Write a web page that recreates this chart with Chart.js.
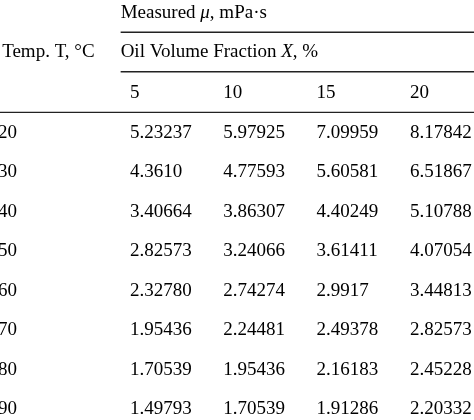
<!DOCTYPE html>
<html><head><meta charset="utf-8">
<script src="https://cdn.jsdelivr.net/npm/chart.js@4"></script>
<style>html,body{margin:0;padding:0;background:#fff}#w{width:474px;height:420px}</style>
</head><body><div id="w"><canvas id="c"></canvas></div>
<script>
const temps = ["20","30","40","50","60","70","80","90"];
const fractions = ["5","10","15","20"];
const col5 = ["5.23237","4.3610","3.40664","2.82573","2.32780","1.95436","1.70539","1.49793"];
const col10 = ["5.97925","4.77593","3.86307","3.24066","2.74274","2.24481","1.95436","1.70539"];
const col15 = ["7.09959","5.60581","4.40249","3.61411","2.9917","2.49378","2.16183","1.91286"];
const col20 = ["8.17842","6.51867","5.10788","4.07054","3.44813","2.82573","2.45228","2.20332"];
const cols = [col5,col10,col15,col20];
const pts = [];
cols.forEach((c,ci)=>c.forEach((v,ri)=>pts.push({x:ci,y:ri,t:v})));
const FONT = '19px "Liberation Serif", "DejaVu Serif", serif';
const tablePlugin = {
  id:'table',
  afterDatasetsDraw(chart){
    const ctx=chart.ctx, xs=chart.scales.x, ys=chart.scales.y;
    ctx.save();
    ctx.fillStyle='#000'; ctx.font=FONT; ctx.textBaseline='middle'; ctx.textAlign='left';
    pts.forEach(p=>ctx.fillText(p.t, xs.getPixelForValue(p.x), ys.getPixelForValue(p.y)));
    temps.forEach((t,i)=>ctx.fillText(t, xs.getPixelForValue(-1.415), ys.getPixelForValue(i)));
    fractions.forEach((f,i)=>ctx.fillText(f, xs.getPixelForValue(i), ys.getPixelForValue(-1)));
    ctx.fillText('Temp. T, \u00B0C', xs.getPixelForValue(-1.37), ys.getPixelForValue(-2.05));
    const x0=xs.getPixelForValue(-0.1);
    const drawMixed=(parts,x,y)=>{parts.forEach(([s,it])=>{ctx.font=(it?'italic ':'')+FONT;ctx.fillText(s,x,y);x+=ctx.measureText(s).width;});};
    drawMixed([['Oil Volume Fraction ',0],['X',1],[', %',0]], x0, ys.getPixelForValue(-2.05));
    drawMixed([['Measured ',0],['\u03BC',1],[', mPa\u00B7s',0]], x0, ys.getPixelForValue(-3.05));
    ctx.strokeStyle='#222'; ctx.lineWidth=1.3;
    const line=(xa,yv)=>{ctx.beginPath();ctx.moveTo(xa,ys.getPixelForValue(yv));ctx.lineTo(chart.width,ys.getPixelForValue(yv));ctx.stroke();};
    line(x0,-2.55); line(x0,-1.55); line(0,-0.52);
    ctx.restore();
  }
};
new Chart(document.getElementById('c'),{
  type:'scatter',
  data:{datasets:[{data:pts,pointRadius:0,showLine:false}]},
  options:{responsive:true,maintainAspectRatio:false,animation:false,
    layout:{padding:0},
    plugins:{legend:{display:false},tooltip:{enabled:false}},
    scales:{
      x:{type:'linear',display:false,min:-1.393,max:3.687},
      y:{type:'linear',display:false,reverse:true,min:-3.367,max:7.266}
    }},
  plugins:[tablePlugin]
});
</script></body></html>
